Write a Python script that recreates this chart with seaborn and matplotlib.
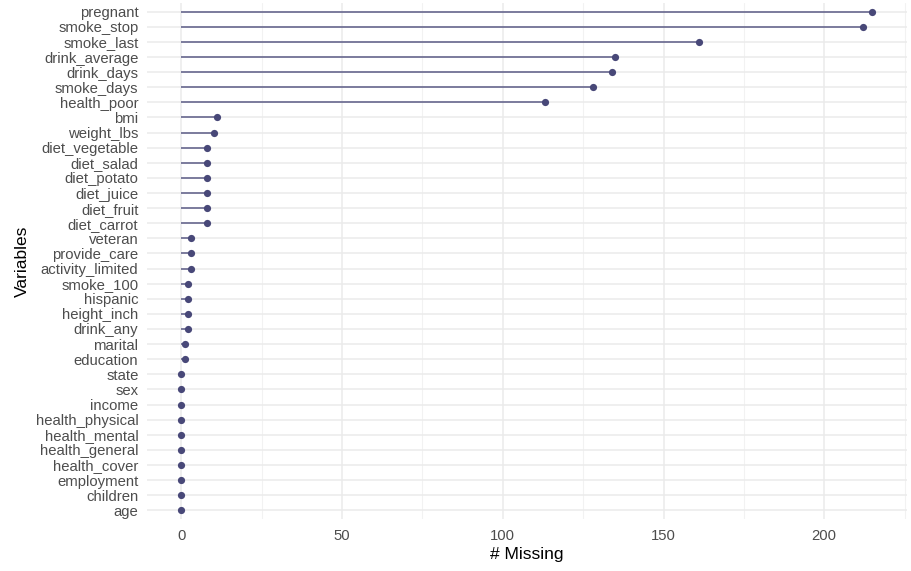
import pandas as pd
import matplotlib.pyplot as plt
import seaborn as sns
from matplotlib.ticker import MultipleLocator

# Missing values per variable, top to bottom as in the chart
variables = ['pregnant', 'smoke_stop', 'smoke_last', 'drink_average', 'drink_days',
             'smoke_days', 'health_poor', 'bmi', 'weight_lbs', 'diet_vegetable',
             'diet_salad', 'diet_potato', 'diet_juice', 'diet_fruit', 'diet_carrot',
             'veteran', 'provide_care', 'activity_limited', 'smoke_100', 'hispanic',
             'height_inch', 'drink_any', 'marital', 'education', 'state', 'sex',
             'income', 'health_physical', 'health_mental', 'health_general',
             'health_cover', 'employment', 'children', 'age']
n_miss = [215, 212, 161, 135, 134, 128, 113, 11, 10, 8,
          8, 8, 8, 8, 8, 3, 3, 3, 2, 2,
          2, 2, 1, 1, 0, 0, 0, 0, 0, 0,
          0, 0, 0, 0]

data = pd.DataFrame({'variable': variables, 'n_miss': n_miss})

sns.set_style('white')
plt.rcParams['font.family'] = ['Liberation Sans', 'DejaVu Sans']

fig = plt.figure(figsize=(9.12, 5.71), dpi=100)
ax = fig.add_axes([0.161, 0.0905, 0.8335, 0.9048])

# lollipop sticks
ax.hlines(y=range(len(data)), xmin=0, xmax=data['n_miss'],
          color='#484878', alpha=0.75, linewidth=1.3, zorder=2)

# lollipop heads
sns.stripplot(data=data, x='n_miss', y='variable', order=variables,
              jitter=False, color='#484878', size=5.2, linewidth=0, ax=ax, zorder=3)

# grid like theme_minimal (after seaborn, which turns the categorical grid off)
ax.set_axisbelow(True)
ax.xaxis.set_major_locator(MultipleLocator(50))
ax.xaxis.set_minor_locator(MultipleLocator(25))
ax.grid(True, axis='x', which='major', color='#ebebeb', linewidth=1.1)
ax.grid(True, axis='x', which='minor', color='#f2f2f2', linewidth=0.8)
ax.grid(True, axis='y', which='major', color='#ebebeb', linewidth=1.1)

ax.set_xlim(-10.75, 225.75)
ax.set_ylim(len(data) - 1 + 0.6, -0.6)

for s in ax.spines.values():
    s.set_visible(False)
ax.tick_params(axis='both', which='both', length=0, labelsize=10.7, labelcolor='#4d4d4d')
ax.tick_params(axis='x', pad=7)
ax.tick_params(axis='y', pad=6)

ax.set_xlabel('# Missing', fontsize=12.5, color='black', labelpad=3)
ax.set_ylabel('Variables', fontsize=12.5, color='black', labelpad=4)

fig.savefig('out.png', dpi=100)
